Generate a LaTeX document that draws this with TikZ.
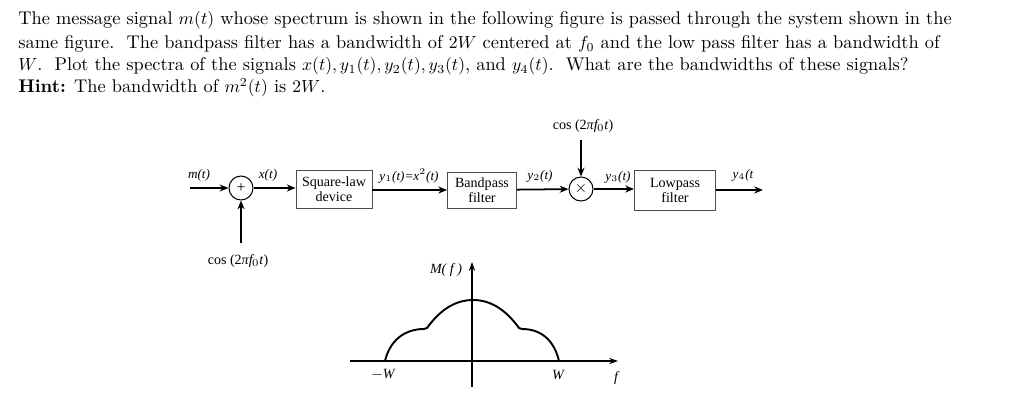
\documentclass[tikz,border=0pt]{standalone}
\usepackage{fontspec}
\newfontfamily\tms{Liberation Serif}
\usetikzlibrary{arrows.meta}
\begin{document}
\begin{tikzpicture}[x=0.02cm,y=-0.02cm,
  blk/.style={draw=black!70,line width=0.5pt,font=\tms\fontsize{8}{8.5}\selectfont,align=center,inner sep=0pt},
  sumc/.style={draw,circle,line width=0.6pt,minimum size=0.48cm,inner sep=0pt,font=\tms\small},
  sig/.style={line width=1pt,-{Stealth[length=5pt,width=4pt]}},
  lbl/.style={font=\tms\fontsize{7.5}{8}\selectfont\itshape,inner sep=0pt},
  txt/.style={anchor=west,inner sep=0pt,font=\fontsize{10.45}{12.5}\selectfont}]
\useasboundingbox (0,0) rectangle (1024,413);
% text
\node[txt] (t1) at (18,20) {The message signal $m(t)$ whose spectrum is shown in the following figure is passed through the system shown in the};
\node[txt] (t2) at (18,44) {same figure.\ \ The bandpass filter has a bandwidth of $2W$ centered at $f_0$ and the low pass filter has a bandwidth of};
\node[txt] (t3) at (18,66) {$W$.\ \ Plot the spectra of the signals $x(t), y_1(t), y_2(t), y_3(t)$, and $y_4(t)$.\ \ What are the bandwidths of these signals?};
\node[txt] (t4) at (18,88) {\textbf{Hint:} The bandwidth of $m^2(t)$ is $2W$.};
% blocks
\node[sumc] (s) at (241,188) {+};
\node[blk,minimum width=1.52cm,minimum height=0.76cm] (sq) at (334,189) {Square-law\\device};
\node[blk,minimum width=1.38cm,minimum height=0.72cm] (bp) at (482,190) {Bandpass\\filter};
\node[sumc] (m) at (581,189) {$\times$};
\node[blk,minimum width=1.62cm,minimum height=0.8cm] (lp) at (675,190) {Lowpass\\filter};
\coordinate (in) at (190,188);
\coordinate (cb) at (241,243);
\coordinate (ct) at (581,140);
\coordinate (out) at (763,190);
\draw[sig] (in) -- (s);
\draw[sig] (cb) -- (s);
\draw[sig] (s) -- (sq.west|-s);
\draw[sig] (sq.east|-bp) -- (bp);
\draw[sig] (bp) -- (m);
\draw[sig] (ct) -- (m);
\draw[sig] (m) -- (lp.west|-m);
\draw[sig] (lp) -- (out);
\node[lbl] (lm) at (199,175) {m(t)};
\node[lbl] (lx) at (268,175) {x(t)};
\node[lbl,font=\tms\fontsize{8}{8}\selectfont,anchor=south] (lc1) at (238,268) {cos (2\textit{πf}$_{\!0}$\textit{t})};
\node[lbl] (ly1) at (409,176) {y$_1$(t)=x$^2$(t)};
\node[lbl] (ly2) at (540,176) {y$_2$(t)};
\node[lbl,font=\tms\fontsize{8}{8}\selectfont] (lc2) at (583,126) {cos (2\textit{πf}$_{\!0}$\textit{t})};
\node[lbl] (ly3) at (618,177) {y$_3$(t)};
\node[lbl] (ly4) at (743,175) {y$_4$(t};
% spectrum
\coordinate (xa) at (350,361); \coordinate (xb) at (618,361);
\coordinate (ya) at (472,387); \coordinate (yb) at (472,262);
\draw[line width=0.7pt,-{Stealth[length=5pt,width=3.5pt]}] (xa) -- (xb);
\draw[line width=0.7pt,-{Stealth[length=5pt,width=3.5pt]}] (ya) -- (yb);
\draw[line width=1.1pt] (385,361) .. controls (390,340) and (405,329) .. (424,329)
  -- (427,328) .. controls (440,310) and (455,300) .. (473,300)
  .. controls (491,300) and (506,310) .. (519,328) -- (522,329)
  .. controls (541,329) and (554,340) .. (559,361);
\node[lbl,font=\tms\fontsize{8}{8}\selectfont\itshape] (mf) at (446,270) {M( f )};
\node[lbl,font=\tms\fontsize{8}{8}\selectfont\itshape] (lw1) at (383,375) {$-$W};
\node[lbl,font=\tms\fontsize{8}{8}\selectfont\itshape] (lw2) at (558,375) {W};
\node[lbl,font=\tms\fontsize{8}{8}\selectfont\itshape] (lf) at (616,378) {f};
\end{tikzpicture}
\end{document}
